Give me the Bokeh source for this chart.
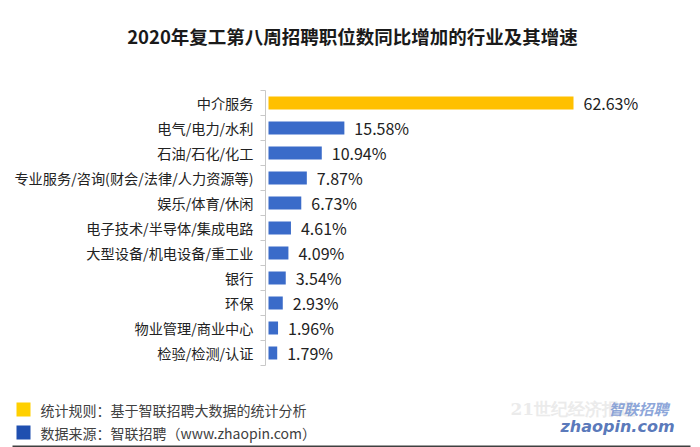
from bokeh.plotting import figure
from bokeh.models import ColumnDataSource, Range1d, Label, BoxAnnotation
from bokeh.embed import file_html
from bokeh.resources import INLINE
from bokeh.core.properties import value

title_text = "2020年复工第八周招聘职位数同比增加的行业及其增速"
categories = ["中介服务", "电气/电力/水利", "石油/石化/化工",
              "专业服务/咨询(财会/法律/人力资源等)", "娱乐/体育/休闲",
              "电子技术/半导体/集成电路", "大型设备/机电设备/重工业",
              "银行", "环保", "物业管理/商业中心", "检验/检测/认证"]
values = [62.63, 15.58, 10.94, 7.87, 6.73, 4.61, 4.09, 3.54, 2.93, 1.96, 1.79]
note1 = "统计规则：基于智联招聘大数据的统计分析"
note2 = "数据来源：智联招聘（www.zhaopin.com）"

FONT = "Noto Sans CJK SC"
n = len(categories)
ypos = list(range(n))
colors = ["#FFC000"] + ["#3A6BC9"] * (n - 1)
labels = ["%.2f%%" % v for v in values]

W, H = 700, 447
PX_PER_UNIT = 4.87      # horizontal scale
ROW = 25.0              # px per category
BAR_X0 = 268            # canvas px of value 0
FIRST_ROW_Y = 102.5     # canvas px of first category centre
AXIS_GAP = 3            # px between axis line and bar start

p = figure(width=W, height=H, output_backend="svg", toolbar_location=None,
           x_range=Range1d(-BAR_X0 / PX_PER_UNIT, (W - BAR_X0) / PX_PER_UNIT),
           y_range=Range1d((H - FIRST_ROW_Y) / ROW, -FIRST_ROW_Y / ROW),
           min_border=0, x_axis_location=None, y_axis_location=None)
p.outline_line_color = None
p.xgrid.visible = False
p.ygrid.visible = False
p.background_fill_color = "white"
p.border_fill_color = "white"

axis_x = -AXIS_GAP / PX_PER_UNIT
tick_x = axis_x - 5 / PX_PER_UNIT

src = ColumnDataSource(dict(y=ypos, v=values, c=colors, lab=labels, cat=categories,
                            ax=[axis_x] * n))

# category axis line and boundary ticks (derived from the category count)
p.segment(x0=[axis_x], x1=[axis_x], y0=[-0.5], y1=[n - 0.5],
          line_color="#C8C8C8", line_width=1)
bounds = [i - 0.5 for i in range(n + 1)]
p.segment(x0=[axis_x] * len(bounds), x1=[tick_x] * len(bounds), y0=bounds, y1=bounds,
          line_color="#C8C8C8", line_width=1)

p.hbar(y="y", left=0, right="v", height=0.52, fill_color="c", line_color=None, source=src)
p.text(x="v", y="y", text="lab", x_offset=10, text_baseline="middle",
       text_align="left", text_font=value(FONT), text_font_size="16px",
       text_color="#222222", source=src)
p.text(x="ax", y="y", text="cat", x_offset=-12, text_baseline="middle",
       text_align="right", text_font=value(FONT), text_font_size="14.2px",
       text_color="#222222", source=src)


def sy(canvas_y):
    return H - canvas_y


p.add_layout(Label(x=352, y=sy(35), x_units="screen", y_units="screen",
                   text=title_text, text_align="center", text_baseline="middle",
                   text_font=FONT, text_font_size="18.5px", text_font_style="bold",
                   text_color="#1A1A1A"))

# footer
def box(l, r, t, b, color):
    return BoxAnnotation(left=l, right=r, top=sy(t), bottom=sy(b),
                         left_units="screen", right_units="screen",
                         top_units="screen", bottom_units="screen",
                         fill_color=color, fill_alpha=1, line_color=None)

p.add_layout(box(16, 30, 402, 416, "#FFD000"))
p.add_layout(box(16, 30, 425, 439, "#1F4FB0"))
p.add_layout(box(12, 690, 445, 447, "#404040"))
p.add_layout(Label(x=40, y=sy(409), x_units="screen", y_units="screen",
                   text=note1, text_align="left", text_baseline="middle",
                   text_font=FONT, text_font_size="14px", text_color="#404040"))
p.add_layout(Label(x=40, y=sy(432), x_units="screen", y_units="screen",
                   text=note2, text_align="left", text_baseline="middle",
                   text_font=FONT, text_font_size="14px", text_color="#404040"))

# watermark logo text
p.add_layout(Label(x=510, y=sy(408), x_units="screen", y_units="screen",
                   text="21世纪经济报道", text_align="left", text_baseline="middle",
                   text_font="DejaVu Serif", text_font_size="17px", text_font_style="bold",
                   text_color="#EBEBEB"))
p.add_layout(Label(x=608, y=sy(408), x_units="screen", y_units="screen",
                   text="智联招聘", text_align="left", text_baseline="middle",
                   text_font=FONT, text_font_size="15px", text_font_style="bold italic",
                   text_color="#6F8FD0", text_alpha=0.8))
p.add_layout(Label(x=560, y=sy(426), x_units="screen", y_units="screen",
                   text="zhaopin.com", text_align="left", text_baseline="middle",
                   text_font="DejaVu Sans", text_font_size="16px", text_font_style="bold italic",
                   text_color="#2E55A8", text_alpha=0.8))

open("out.html", "w").write(file_html(p, INLINE))
